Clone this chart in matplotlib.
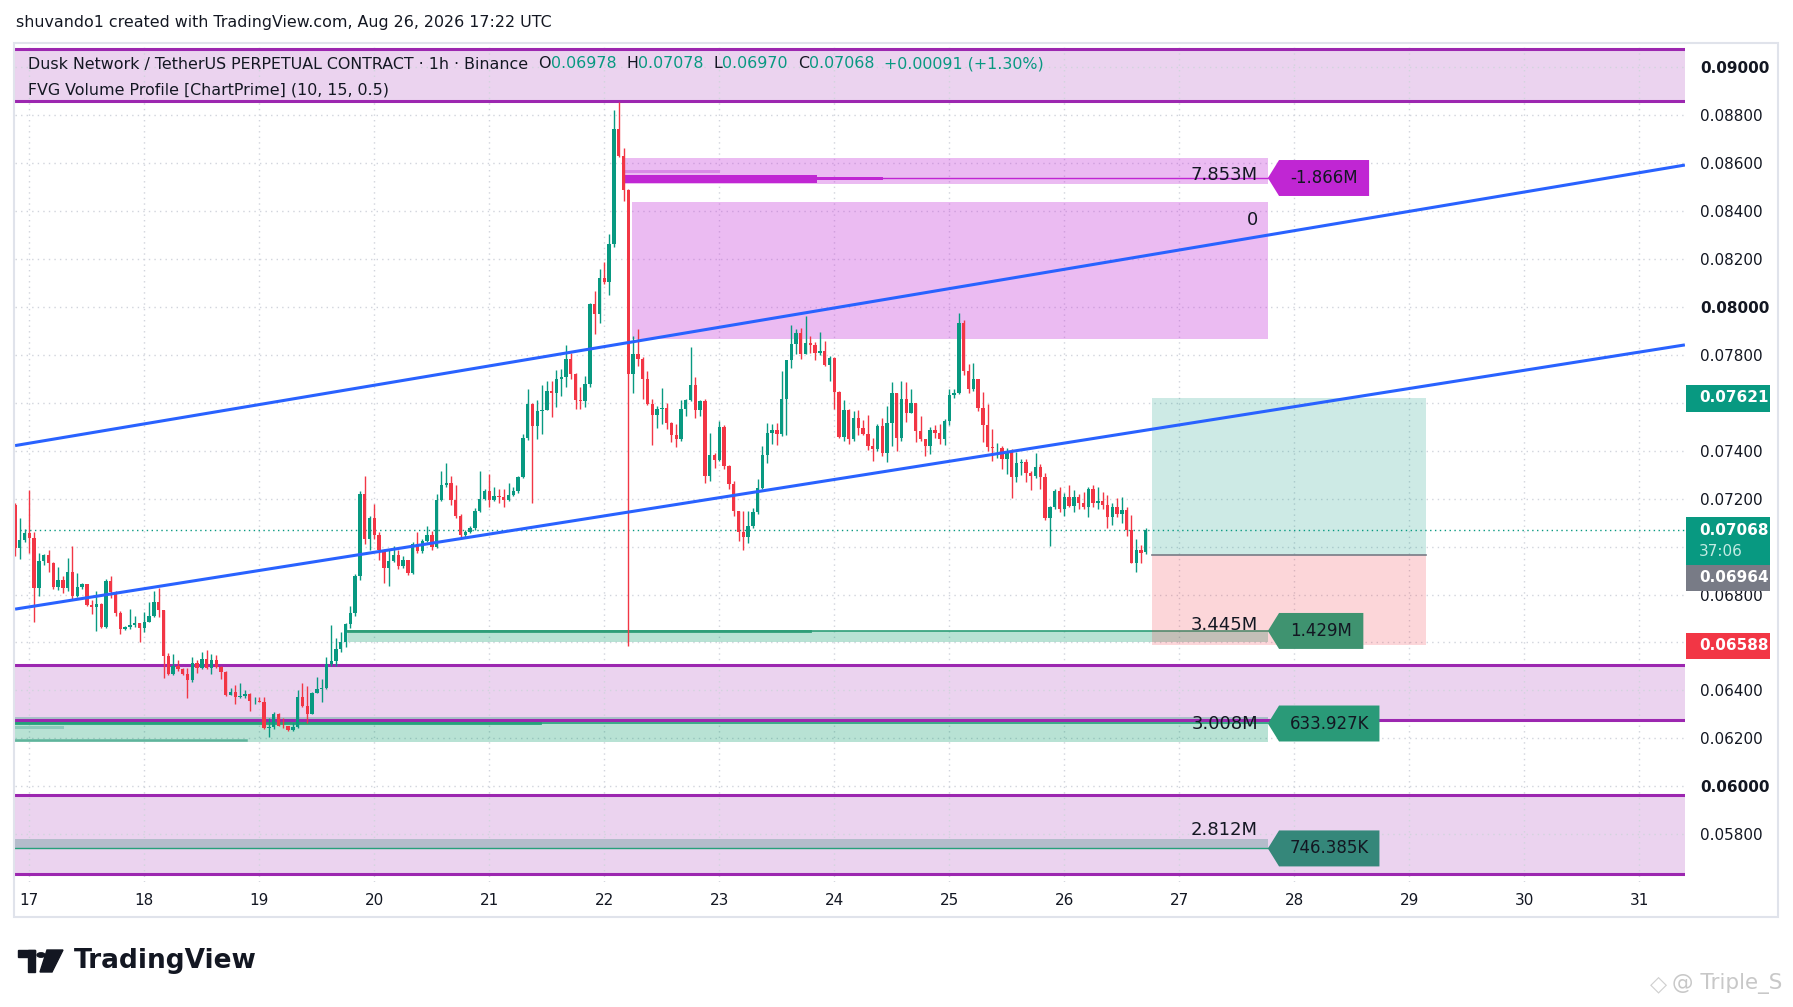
import numpy as np
import matplotlib
matplotlib.use('Agg')
import matplotlib.pyplot as plt
from matplotlib.patches import Rectangle, Polygon, Circle
import matplotlib.transforms as mtransforms

W, H = 1793, 1007

# DUSKUSDT.P 1h candles, first one Aug 16 21:00 UTC, last one Aug 26 17:00 UTC
firstOpen = 0.07172
closes = [
    0.06996, 0.07026, 0.07056, 0.07035, 0.06828, 0.06939, 0.06964, 0.06931, 0.06832, 0.06860,
    0.06826, 0.06893, 0.06793, 0.06831, 0.06842, 0.06756, 0.06747, 0.06760, 0.06665, 0.06856,
    0.06810, 0.06724, 0.06657, 0.06664, 0.06672, 0.06683, 0.06661, 0.06687, 0.06710, 0.06768,
    0.06735, 0.06544, 0.06469, 0.06501, 0.06488, 0.06469, 0.06444, 0.06513, 0.06494, 0.06529,
    0.06494, 0.06526, 0.06499, 0.06478, 0.06382, 0.06394, 0.06374, 0.06376, 0.06385, 0.06354,
    0.06357, 0.06353, 0.06242, 0.06249, 0.06301, 0.06253, 0.06250, 0.06236, 0.06249, 0.06372,
    0.06335, 0.06303, 0.06389, 0.06406, 0.06411, 0.06510, 0.06521, 0.06572, 0.06600, 0.06675,
    0.06723, 0.06876, 0.07218, 0.07032, 0.07121, 0.07047, 0.06987, 0.06910, 0.06940, 0.06965,
    0.06918, 0.06943, 0.06891, 0.07010, 0.06980, 0.07025, 0.07047, 0.07000, 0.07196, 0.07255,
    0.07263, 0.07196, 0.07126, 0.07047, 0.07062, 0.07077, 0.07148, 0.07200, 0.07230, 0.07193,
    0.07211, 0.07208, 0.07193, 0.07215, 0.07230, 0.07290, 0.07453, 0.07594, 0.07501, 0.07565,
    0.07568, 0.07647, 0.07642, 0.07699, 0.07706, 0.07781, 0.07721, 0.07612, 0.07605, 0.07676,
    0.08010, 0.07970, 0.08118, 0.08104, 0.08260, 0.08740, 0.08629, 0.08486, 0.07718, 0.07804,
    0.07781, 0.07700, 0.07593, 0.07547, 0.07572, 0.07579, 0.07517, 0.07464, 0.07447, 0.07572,
    0.07610, 0.07675, 0.07569, 0.07607, 0.07294, 0.07381, 0.07361, 0.07499, 0.07336, 0.07260,
    0.07149, 0.07061, 0.07040, 0.07086, 0.07144, 0.07246, 0.07381, 0.07475, 0.07485, 0.07468,
    0.07617, 0.07776, 0.07843, 0.07889, 0.07801, 0.07847, 0.07840, 0.07808, 0.07815, 0.07756,
    0.07785, 0.07646, 0.07457, 0.07568, 0.07450, 0.07535, 0.07496, 0.07468, 0.07419, 0.07406,
    0.07503, 0.07392, 0.07517, 0.07642, 0.07451, 0.07617, 0.07558, 0.07597, 0.07482, 0.07447,
    0.07419, 0.07485, 0.07475, 0.07447, 0.07524, 0.07632, 0.07642, 0.07931, 0.07732, 0.07656,
    0.07697, 0.07576, 0.07507, 0.07415, 0.07410, 0.07413, 0.07364, 0.07399, 0.07290, 0.07347,
    0.07353, 0.07306, 0.07294, 0.07332, 0.07288, 0.07118, 0.07163, 0.07232, 0.07158, 0.07208,
    0.07169, 0.07208, 0.07181, 0.07163, 0.07242, 0.07181, 0.07190, 0.07172, 0.07124, 0.07167,
    0.07135, 0.07151, 0.07069, 0.06933, 0.06985, 0.06975, 0.07068]
highs = [
    0.07183, 0.07117, 0.07075, 0.07235, 0.07060, 0.06972, 0.06970, 0.06985, 0.06935, 0.06914,
    0.06878, 0.06951, 0.07001, 0.06889, 0.06850, 0.06845, 0.06779, 0.06814, 0.06765, 0.06864,
    0.06878, 0.06814, 0.06731, 0.06670, 0.06739, 0.06710, 0.06683, 0.06725, 0.06769, 0.06814,
    0.06828, 0.06735, 0.06556, 0.06551, 0.06526, 0.06495, 0.06492, 0.06539, 0.06526, 0.06561,
    0.06568, 0.06550, 0.06549, 0.06503, 0.06480, 0.06408, 0.06421, 0.06431, 0.06401, 0.06389,
    0.06371, 0.06371, 0.06371, 0.06283, 0.06310, 0.06307, 0.06287, 0.06250, 0.06264, 0.06401,
    0.06431, 0.06418, 0.06395, 0.06458, 0.06446, 0.06539, 0.06672, 0.06617, 0.06645, 0.06680,
    0.06750, 0.06886, 0.07233, 0.07296, 0.07129, 0.07176, 0.07062, 0.06990, 0.06987, 0.07002,
    0.06987, 0.06960, 0.06945, 0.07017, 0.07062, 0.07030, 0.07084, 0.07066, 0.07218, 0.07315,
    0.07349, 0.07293, 0.07255, 0.07135, 0.07070, 0.07085, 0.07159, 0.07315, 0.07240, 0.07303,
    0.07248, 0.07240, 0.07240, 0.07263, 0.07248, 0.07295, 0.07468, 0.07657, 0.07597, 0.07612,
    0.07672, 0.07690, 0.07690, 0.07736, 0.07739, 0.07839, 0.07806, 0.07725, 0.07665, 0.07712,
    0.08014, 0.08066, 0.08156, 0.08185, 0.08304, 0.08822, 0.08855, 0.08662, 0.08490, 0.07880,
    0.07906, 0.07790, 0.07732, 0.07615, 0.07586, 0.07663, 0.07600, 0.07520, 0.07510, 0.07611,
    0.07615, 0.07833, 0.07708, 0.07612, 0.07614, 0.07475, 0.07392, 0.07524, 0.07506, 0.07340,
    0.07274, 0.07150, 0.07149, 0.07149, 0.07162, 0.07283, 0.07419, 0.07514, 0.07510, 0.07514,
    0.07732, 0.07780, 0.07924, 0.07906, 0.07910, 0.07961, 0.07878, 0.07853, 0.07894, 0.07857,
    0.07794, 0.07792, 0.07649, 0.07610, 0.07575, 0.07565, 0.07569, 0.07526, 0.07547, 0.07454,
    0.07510, 0.07537, 0.07586, 0.07686, 0.07642, 0.07690, 0.07686, 0.07656, 0.07600, 0.07544,
    0.07450, 0.07500, 0.07507, 0.07510, 0.07533, 0.07656, 0.07658, 0.07972, 0.07943, 0.07760,
    0.07764, 0.07700, 0.07646, 0.07593, 0.07489, 0.07431, 0.07419, 0.07413, 0.07406, 0.07396,
    0.07367, 0.07367, 0.07315, 0.07389, 0.07343, 0.07306, 0.07170, 0.07239, 0.07250, 0.07225,
    0.07256, 0.07236, 0.07218, 0.07228, 0.07250, 0.07256, 0.07247, 0.07228, 0.07214, 0.07181,
    0.07201, 0.07208, 0.07167, 0.07131, 0.07031, 0.07006, 0.07078]
lows = [
    0.06960, 0.06947, 0.07020, 0.06975, 0.06686, 0.06794, 0.06925, 0.06894, 0.06825, 0.06819,
    0.06806, 0.06815, 0.06783, 0.06790, 0.06825, 0.06750, 0.06718, 0.06647, 0.06660, 0.06660,
    0.06785, 0.06710, 0.06636, 0.06650, 0.06656, 0.06665, 0.06603, 0.06643, 0.06686, 0.06707,
    0.06707, 0.06450, 0.06465, 0.06465, 0.06480, 0.06465, 0.06369, 0.06436, 0.06472, 0.06490,
    0.06490, 0.06469, 0.06495, 0.06447, 0.06378, 0.06380, 0.06344, 0.06370, 0.06370, 0.06315,
    0.06344, 0.06350, 0.06240, 0.06207, 0.06238, 0.06250, 0.06245, 0.06229, 0.06229, 0.06244,
    0.06330, 0.06264, 0.06300, 0.06389, 0.06350, 0.06407, 0.06503, 0.06503, 0.06560, 0.06580,
    0.06660, 0.06710, 0.06860, 0.07010, 0.06987, 0.07032, 0.06943, 0.06849, 0.06834, 0.06935,
    0.06906, 0.06910, 0.06883, 0.06885, 0.06973, 0.06975, 0.07020, 0.06985, 0.06995, 0.07190,
    0.07250, 0.07174, 0.07120, 0.07040, 0.07040, 0.07055, 0.07070, 0.07145, 0.07195, 0.07163,
    0.07190, 0.07180, 0.07163, 0.07190, 0.07210, 0.07225, 0.07285, 0.07445, 0.07181, 0.07449,
    0.07471, 0.07575, 0.07540, 0.07580, 0.07627, 0.07665, 0.07700, 0.07575, 0.07575, 0.07583,
    0.07665, 0.07888, 0.07932, 0.08095, 0.08047, 0.08250, 0.08624, 0.08441, 0.06585, 0.07642,
    0.07753, 0.07614, 0.07590, 0.07424, 0.07496, 0.07510, 0.07489, 0.07436, 0.07414, 0.07440,
    0.07544, 0.07605, 0.07537, 0.07544, 0.07267, 0.07274, 0.07329, 0.07355, 0.07322, 0.07239,
    0.07128, 0.07024, 0.06986, 0.07014, 0.07079, 0.07135, 0.07240, 0.07350, 0.07426, 0.07422,
    0.07461, 0.07464, 0.07743, 0.07801, 0.07781, 0.07801, 0.07808, 0.07778, 0.07799, 0.07753,
    0.07690, 0.07575, 0.07454, 0.07440, 0.07426, 0.07440, 0.07464, 0.07464, 0.07403, 0.07357,
    0.07399, 0.07378, 0.07353, 0.07419, 0.07399, 0.07440, 0.07519, 0.07556, 0.07436, 0.07440,
    0.07378, 0.07385, 0.07454, 0.07426, 0.07422, 0.07507, 0.07620, 0.07635, 0.07714, 0.07642,
    0.07649, 0.07565, 0.07436, 0.07399, 0.07357, 0.07368, 0.07322, 0.07301, 0.07201, 0.07269,
    0.07297, 0.07269, 0.07235, 0.07285, 0.07239, 0.07111, 0.07003, 0.07156, 0.07142, 0.07128,
    0.07167, 0.07144, 0.07158, 0.07156, 0.07124, 0.07165, 0.07158, 0.07158, 0.07076, 0.07090,
    0.07124, 0.07100, 0.07044, 0.06930, 0.06894, 0.06933, 0.06970]
lastOpen = 0.06978
firstCandleDay = 16.875          # Aug 16 21:00 expressed in days of August

dayTicks = list(range(17, 32))
priceTicks = [0.058, 0.060, 0.062, 0.064, 0.066, 0.068, 0.070, 0.072, 0.074, 0.076,
              0.078, 0.080, 0.082, 0.084, 0.086, 0.088, 0.090]
# ticks that sit under a price tag on the scale
hiddenTicks = [0.066, 0.070, 0.076]

# purple support / resistance boxes (low, high), full width
srZones = [(0.08858, 0.09074), (0.06278, 0.06505), (0.05636, 0.05963)]

# FVG volume profile boxes (start day, end day, low, high)
pinkBoxes = [(22.17, 27.77, 0.08513, 0.08622), (22.24, 27.77, 0.07865, 0.08437)]
greenBoxes = [(19.77, 27.77, 0.06600, 0.06648), (16.87, 27.77, 0.06184, 0.06288)]
grayBars = [(16.87, 27.77, 0.05742, 0.05780)]
totalLabels = ['7.853M', '0', '3.445M', '3.008M', '2.812M']
totalPrices = [0.08550, 0.08362, 0.06673, 0.06262, 0.05818]
deltaLabels = ['-1.866M', '1.429M', '633.927K', '746.385K']
deltaPrices = [0.08537, 0.06648, 0.06262, 0.05741]
deltaEnds = [28.65, 28.60, 28.74, 28.74]
deltaColors = ['#c026d3', '#3f9370', '#2a9a78', '#35877a']
profileEnd = 27.77

# rising channel drawn by the author (day, price) end points
upperLine = ([16.876, 31.396], [0.07421, 0.08591])
lowerLine = ([16.876, 31.396], [0.06739, 0.07841])

# long position tool
posStart, posEnd = 26.763, 29.143
targetPrice, entryPrice, stopPrice = 0.07621, 0.06964, 0.06588
lastPrice = 0.07068
countdown = '37:06'

GREEN = '#089981'
RED = '#f23645'
TEXT = '#131722'


def px2fig(x, y):
    # reference pixel (top-left origin) to figure fraction
    return x / W, 1 - y / H


fig = plt.figure(figsize=(W / 100, H / 100), dpi=100)
fig.patch.set_facecolor('white')
ax = fig.add_axes([14.5 / W, (H - 882) / H, (1685 - 14.5) / W, (882 - 43) / H])
ax.set_xlim(16.871, 31.397)
ax.set_ylim(0.05601, 0.09100)
for s in ax.spines.values():
    s.set_visible(False)

# grid and scales
ax.set_xticks(dayTicks)
ax.set_xticklabels([str(d) for d in dayTicks])
ax.set_yticks(priceTicks)
ax.set_yticklabels(['' if any(abs(p - q) < 1e-6 for q in hiddenTicks) else '%.5f' % p for p in priceTicks])
ax.grid(True, color='#d1d4dc', ls=(0, (1, 3)), lw=1)
ax.set_axisbelow(True)
ax.yaxis.tick_right()
ax.tick_params(axis='y', length=0, pad=11, labelsize=11, labelcolor=TEXT)
ax.tick_params(axis='x', length=0, pad=8, labelsize=11, labelcolor=TEXT)
for lbl, v in zip(ax.get_yticklabels(), priceTicks):
    if round(v * 1000) % 10 == 0:
        lbl.set_fontweight('bold')

# purple zones
for lo, hi in srZones:
    ax.axhspan(lo, hi, color=(156 / 255, 39 / 255, 176 / 255, 0.2), lw=0, zorder=0.5)
    ax.axhline(lo, color='#9c27b0', lw=2.2, zorder=2.2)
    ax.axhline(hi, color='#9c27b0', lw=2.2, zorder=2.2)

# FVG profile boxes
for x0, x1, lo, hi in pinkBoxes:
    ax.add_patch(Rectangle((x0, lo), x1 - x0, hi - lo, color=(200 / 255, 60 / 255, 220 / 255, 0.35), lw=0, zorder=0.6))
for x0, x1, lo, hi in greenBoxes:
    ax.add_patch(Rectangle((x0, lo), x1 - x0, hi - lo, color=(0, 153 / 255, 102 / 255, 0.28), lw=0, zorder=0.6))
for x0, x1, lo, hi in grayBars:
    ax.add_patch(Rectangle((x0, lo), x1 - x0, hi - lo, color='#b4bccb', lw=0, zorder=0.7))
    ax.plot([x0, x1], [lo, lo], color='#26a17a', lw=1, zorder=0.8)
# volume bars inside the upper pink box
ax.add_patch(Rectangle((22.17, 0.08517), 23.85 - 22.17, 0.00032, color='#c026d3', lw=0, zorder=0.8))
ax.add_patch(Rectangle((22.17, 0.08528), 24.42 - 22.17, 0.00014, color='#c026d3', lw=0, zorder=0.8))
ax.add_patch(Rectangle((22.17, 0.08558), 23.01 - 22.17, 0.00014, color='#d98ae6', lw=0, zorder=0.8))
ax.plot([22.17, profileEnd], [0.08538, 0.08538], color='#c026d3', lw=1, zorder=0.8)
# lines inside the green boxes
ax.plot([19.77, profileEnd], [0.06646, 0.06646], color='#2e9e78', lw=1.2, zorder=0.8)
ax.plot([19.77, 23.79], [0.06646, 0.06646], color='#2e9e78', lw=2, zorder=0.8)
ax.plot([16.87, profileEnd], [0.06264, 0.06264], color='#26a17a', lw=1.2, zorder=0.8)
ax.plot([16.87, 21.44], [0.06266, 0.06266], color='#26a17a', lw=2, zorder=0.8)
ax.add_patch(Rectangle((16.87, 0.06238), 17.30 - 16.87, 0.00014, color='#8ccbbb', lw=0, zorder=0.8))
ax.plot([16.87, 18.88], [0.06192, 0.06192], color='#5fb49c', lw=1.8, zorder=0.8)

# long position
ax.add_patch(Rectangle((posStart, entryPrice), posEnd - posStart, targetPrice - entryPrice,
                       color=(8 / 255, 153 / 255, 129 / 255, 0.2), lw=0, zorder=0.9))
ax.add_patch(Rectangle((posStart, stopPrice), posEnd - posStart, entryPrice - stopPrice,
                       color=(242 / 255, 54 / 255, 69 / 255, 0.2), lw=0, zorder=0.9))
ax.plot([posStart, posEnd], [entryPrice, entryPrice], color='#787b86', lw=1.2, zorder=1)

# last price line
ax.axhline(lastPrice, color=GREEN, ls=(0, (1, 2.5)), lw=1, zorder=1)

# candles
c = np.array(closes)
o = np.concatenate([[firstOpen], c[:-1]])
o[-1] = lastOpen
hi = np.maximum(np.array(highs), np.maximum(o, c))
lo = np.minimum(np.array(lows), np.minimum(o, c))
t = firstCandleDay + np.arange(len(c)) / 24.0
cols = np.where(c >= o, GREEN, RED)
ax.vlines(t, lo, hi, colors=cols, lw=1, zorder=3)
body = np.maximum(np.abs(c - o), 0.00002)
ax.bar(t, body, bottom=np.minimum(o, c), width=0.7 / 24, color=cols, lw=0, zorder=3.1)

# channel lines
ax.plot(upperLine[0], upperLine[1], color='#2962ff', lw=2.2, zorder=4, solid_capstyle='butt')
ax.plot(lowerLine[0], lowerLine[1], color='#2962ff', lw=2.2, zorder=4, solid_capstyle='butt')

# profile labels
for txt, p in zip(totalLabels, totalPrices):
    ax.text(27.684, p, txt, ha='right', va='center', fontsize=13, color=TEXT, zorder=5)
h = 0.00075
for txt, p, xe, col in zip(deltaLabels, deltaPrices, deltaEnds, deltaColors):
    ax.add_patch(Polygon([(profileEnd, p), (27.867, p + h), (xe, p + h), (xe, p - h), (27.867, p - h)],
                         closed=True, color=col, lw=0, zorder=5))
    ax.text((27.867 + xe) / 2, p, txt, ha='center', va='center', fontsize=12, color=TEXT, zorder=5.1)

# price scale tags: (text, text price, box low, box high, colour)
blend = mtransforms.blended_transform_factory(ax.transAxes, ax.transData)
tagX0, tagW = 1.0006, 0.0503
textX = (1699 - 14.5) / (1685 - 14.5)
tags = [('%.5f' % targetPrice, targetPrice, 0.07561, 0.07674, GREEN),
        ('%.5f' % lastPrice, lastPrice, 0.06923, 0.07123, GREEN),
        ('%.5f' % entryPrice, 0.06869, 0.06815, 0.06923, '#787b86'),
        ('%.5f' % stopPrice, stopPrice, 0.06531, 0.06639, RED)]
for txt, p, b0, b1, col in tags:
    ax.add_patch(Rectangle((tagX0, b0), tagW, b1 - b0, transform=blend, clip_on=False,
                           color=col, lw=0, zorder=6))
    ax.text(textX, p, txt, transform=blend, ha='left', va='center', fontsize=11, fontweight='bold',
            color='white', clip_on=False, zorder=7)
ax.text(textX, 0.06979, countdown, transform=blend, ha='left', va='center', fontsize=11,
        color='#c4ebe3', clip_on=False, zorder=7)

# pane border
fig.add_artist(Rectangle(px2fig(14, 917), 1764 / W, 874 / H, transform=fig.transFigure,
                         fill=False, edgecolor='#e0e3eb', lw=1.5))

# header
fig.text(*px2fig(16, 22), 'shuvando1 created with TradingView.com, Aug 26, 2026 17:22 UTC',
         fontsize=11.4, color=TEXT, va='center')
pieces = [('Dusk Network / TetherUS PERPETUAL CONTRACT · 1h · Binance  ', TEXT), ('O', TEXT),
          ('0.06978  ', GREEN), ('H', TEXT), ('0.07078  ', GREEN), ('L', TEXT), ('0.06970  ', GREEN),
          ('C', TEXT), ('0.07068  ', GREEN), ('+0.00091 (+1.30%)', GREEN)]
renderer = fig.canvas.get_renderer()
xpos = 28
for txt, col in pieces:
    tx = fig.text(*px2fig(xpos, 64), txt, fontsize=11.4, color=col, va='center')
    xpos += tx.get_window_extent(renderer).width
fig.text(*px2fig(28, 90), 'FVG Volume Profile [ChartPrime] (10, 15, 0.5)', fontsize=11.4, color=TEXT, va='center')

# TradingView logo
logo = [Rectangle(px2fig(18, 957), 17 / W, 7 / H), Rectangle(px2fig(28, 972), 7 / W, 22 / H),
        Polygon([px2fig(47, 950), px2fig(63, 950), px2fig(52, 972), px2fig(40, 972)])]
for pt in logo:
    pt.set_transform(fig.transFigure)
    pt.set_color(TEXT)
    fig.add_artist(pt)
fig.add_artist(Circle(px2fig(41, 955), 0.0022, transform=fig.transFigure, color=TEXT))
fig.text(*px2fig(74, 961), 'TradingView', fontsize=19, fontweight='bold', color=TEXT, va='center')

# watermark
fig.text(*px2fig(1650, 984), '◇', fontsize=16, color='#d0d0d0', va='center')
fig.text(*px2fig(1672, 984), '@ Triple_S', fontsize=15.5, color='#c8c8c8', va='center')

fig.savefig('out.png', dpi=100)
